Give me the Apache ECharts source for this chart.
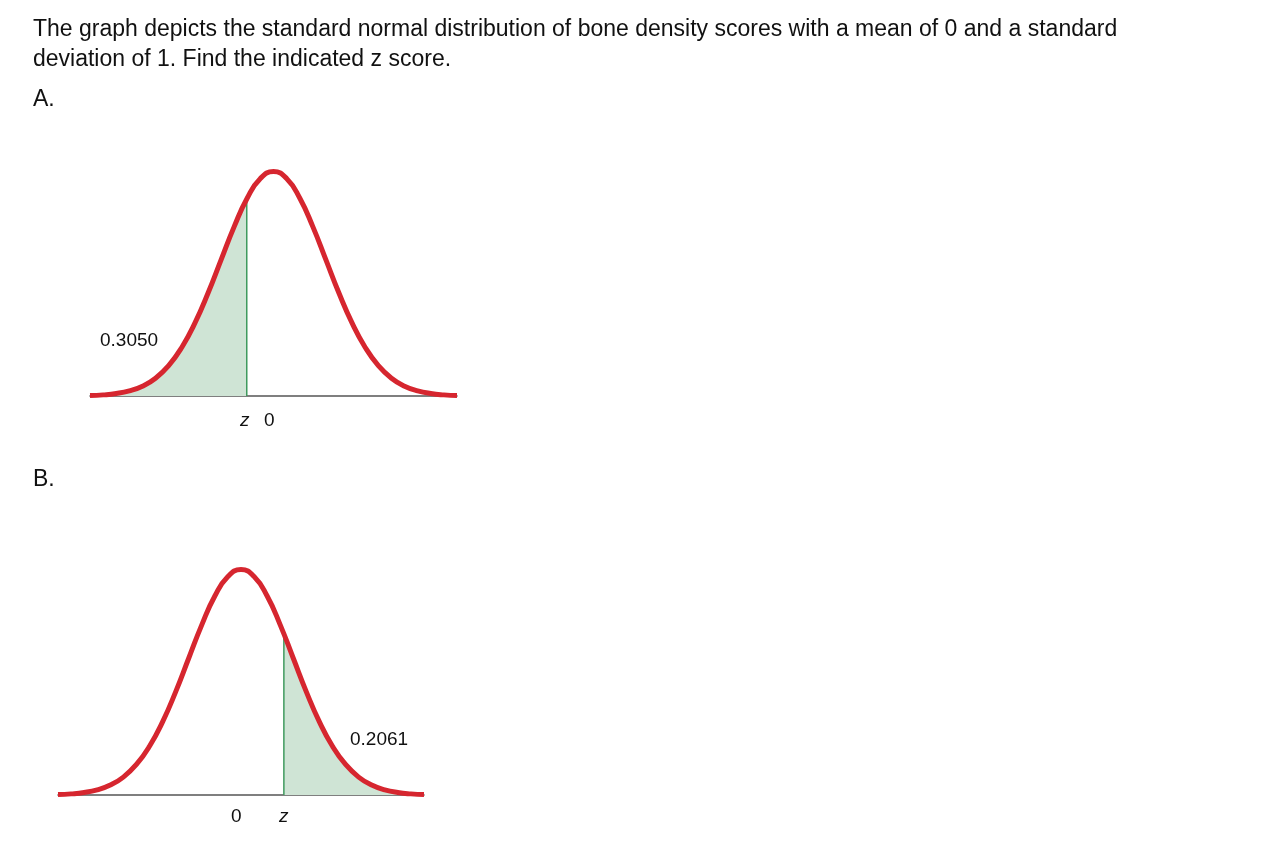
<!DOCTYPE html>
<html>
<head>
<meta charset="utf-8">
<script src="https://cdn.jsdelivr.net/npm/echarts@6/dist/echarts.min.js"></script>
<style>
  html, body { margin: 0; padding: 0; background: #fff; }
  #chart { width: 1285px; height: 861px; }
</style>
</head>
<body>
<div id="chart"></div>
<script>
// z values (right half, the curve is symmetric)
const halfZ = [0, 0.25, 0.5, 0.75, 1, 1.25, 1.5, 1.75, 2, 2.25, 2.5, 2.75, 3, 3.25, 3.5];
const halfDensity = [0.3989, 0.3867, 0.3521, 0.3011, 0.2420, 0.1826, 0.1295, 0.0863, 0.0540, 0.0317, 0.0175, 0.0091, 0.0044, 0.0020, 0.0009];

// panel A: shaded left tail up to z
const zA = -0.51, hA = 0.3503, labelA = "0.3050";
// panel B: shaded right tail from z
const zB = 0.82, hB = 0.2850, labelB = "0.2061";

const curve = [];
for (let i = halfZ.length - 1; i > 0; i--) curve.push([-halfZ[i], halfDensity[i]]);
for (let i = 0; i < halfZ.length; i++) curve.push([halfZ[i], halfDensity[i]]);

const tailA = curve.filter(p => p[0] < zA).concat([[zA, hA]]);
const tailB = [[zB, hB]].concat(curve.filter(p => p[0] > zB));

const RED = "#d6262f", GREEN_FILL = "#cfe4d5", GREEN_LINE = "#3f9a5e";
const FONT = "Liberation Sans, Arial, sans-serif";

function panel(idx, tail, z, h) {
  return [
    {
      type: "line", xAxisIndex: idx, yAxisIndex: idx, data: tail, smooth: true,
      symbol: "none", lineStyle: { width: 0 },
      areaStyle: { color: GREEN_FILL, origin: "start", opacity: 1 }, z: 1
    },
    {
      type: "line", xAxisIndex: idx, yAxisIndex: idx, data: [[z, 0], [z, h]],
      symbol: "none", lineStyle: { color: GREEN_LINE, width: 1.5 }, z: 2
    },
    {
      type: "line", xAxisIndex: idx, yAxisIndex: idx, data: curve, smooth: true,
      symbol: "none", lineStyle: { color: RED, width: 5 }, z: 3
    }
  ];
}

const axisX = gi => ({
  type: "value", gridIndex: gi, min: -3.5, max: 3.5,
  axisLine: { show: true, onZero: false, lineStyle: { color: "#555", width: 1.5 } },
  axisTick: { show: false }, axisLabel: { show: false }, splitLine: { show: false }
});
const axisY = gi => ({ type: "value", gridIndex: gi, min: 0, max: 0.4, show: false });

const txt = (x, y, s, extra) => ({
  type: "text", left: x, top: y,
  style: Object.assign({ text: s, font: "23px " + FONT, fill: "#111" }, extra || {})
});

const myChart = echarts.init(document.getElementById("chart"));
myChart.setOption({
  animation: false,
  grid: [
    { left: 90, width: 367, top: 171, height: 225 },
    { left: 58, width: 366, top: 569, height: 226 }
  ],
  xAxis: [axisX(0), axisX(1)],
  yAxis: [axisY(0), axisY(1)],
  series: panel(0, tailA, zA, hA).concat(panel(1, tailB, zB, hB)),
  graphic: [
    txt(33, 18, "The graph depicts the standard normal distribution of bone density scores with a mean of 0 and a standard"),
    txt(33, 48, "deviation of 1. Find the indicated z score."),
    txt(33, 88, "A."),
    txt(33, 468, "B."),
    txt(100, 331, labelA, { font: "19px " + FONT }),
    txt(240, 411, "z", { font: "italic 19px " + FONT }),
    txt(264, 411, "0", { font: "19px " + FONT }),
    txt(350, 730, labelB, { font: "19px " + FONT }),
    txt(231, 807, "0", { font: "19px " + FONT }),
    txt(279, 807, "z", { font: "italic 19px " + FONT })
  ]
});
</script>
</body>
</html>
